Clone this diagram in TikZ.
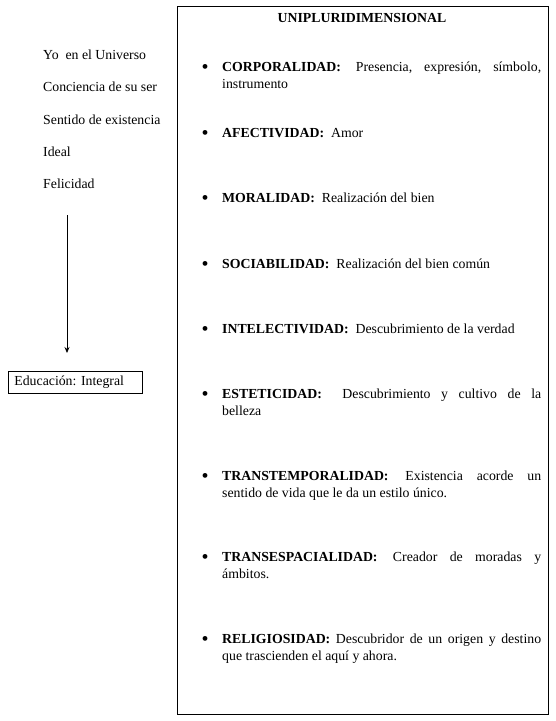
\documentclass[tikz,border=0pt]{standalone}
\usepackage{fontspec}
\setmainfont{Liberation Serif}
\usetikzlibrary{arrows.meta}
\frenchspacing
\begin{document}
\begin{tikzpicture}[x=1pt,y=1pt,
        every node/.style={font=\fontsize{13.8}{17.5}\selectfont,inner sep=0pt},
        lefttext/.style={anchor=base west},
        dot/.style={anchor=base,font=\fontsize{20}{20}\selectfont},
        item/.style={anchor=base west,text width=319pt,align=justify}]
        \useasboundingbox (0,0) rectangle (555,-721);
        %% Frame
        \draw[line width=0.8pt] (177,-6) rectangle (548,-714);
        \node[anchor=base,font=\fontsize{13.8}{17.5}\selectfont\bfseries] (title) at (362,-22) {UNIPLURIDIMENSIONAL};
        %% left column
        \node[lefttext] (yo) at (43,-59) {Yo\ \ en el Universo};
        \node[lefttext] (conciencia) at (43,-91) {Conciencia de su ser};
        \node[lefttext] (sentido) at (43,-124) {Sentido de existencia};
        \node[lefttext] (ideal) at (43,-156) {Ideal};
        \node[lefttext] (felicidad) at (43,-188) {Felicidad};
        \node[draw,line width=0.8pt,anchor=north west,minimum width=134pt,minimum height=22pt,text width=122pt,inner xsep=6pt] (edu) at (8,-371) {Educación: Integral};
        %% arrow
        \coordinate (arrtop) at (67,-215);
        \coordinate (arrend) at (67,-353);
        \draw[line width=0.8pt,-{Stealth[length=6pt,width=5pt]}] (arrtop) -- (arrend);
        %% bullets
        \node[dot] (b1) at (205,-73) {\textbullet};
        \node[dot] (b2) at (205,-139) {\textbullet};
        \node[dot] (b3) at (205,-204) {\textbullet};
        \node[dot] (b4) at (205,-270) {\textbullet};
        \node[dot] (b5) at (205,-335) {\textbullet};
        \node[dot] (b6) at (205,-400) {\textbullet};
        \node[dot] (b7) at (205,-482) {\textbullet};
        \node[dot] (b8) at (205,-563) {\textbullet};
        \node[dot] (b9) at (205,-645) {\textbullet};
        %% items
        \node[item] (corporalidad) at (222,-71) {\textbf{CORPORALIDAD:}\hspace{3pt} Presencia, expresión, símbolo,\linebreak instrumento};
        \node[item] (afectividad) at (222,-137) {\textbf{AFECTIVIDAD:}\ \ Amor};
        \node[item] (moralidad) at (222,-202) {\textbf{MORALIDAD:}\ \ Realización del bien};
        \node[item] (sociabilidad) at (222,-268) {\textbf{SOCIABILIDAD:}\ \ Realización del bien común};
        \node[item] (intelectividad) at (222,-333) {\textbf{INTELECTIVIDAD:}\ \ Descubrimiento de la verdad};
        \node[item] (esteticidad) at (222,-398) {\textbf{ESTETICIDAD:}\hspace{10pt} Descubrimiento y cultivo de la\linebreak belleza};
        \node[item] (transtemporalidad) at (222,-480) {\textbf{TRANSTEMPORALIDAD:}\hspace{3pt} Existencia acorde un\linebreak sentido de vida que le da un estilo único.};
        \node[item] (transespacialidad) at (222,-561) {\textbf{TRANSESPACIALIDAD:}\hspace{3pt} Creador de moradas y\linebreak ámbitos.};
        \node[item] (religiosidad) at (222,-643) {\textbf{RELIGIOSIDAD:} Descubridor de un origen y destino\linebreak que trascienden el aquí y ahora.};
    \end{tikzpicture}
\end{document}
